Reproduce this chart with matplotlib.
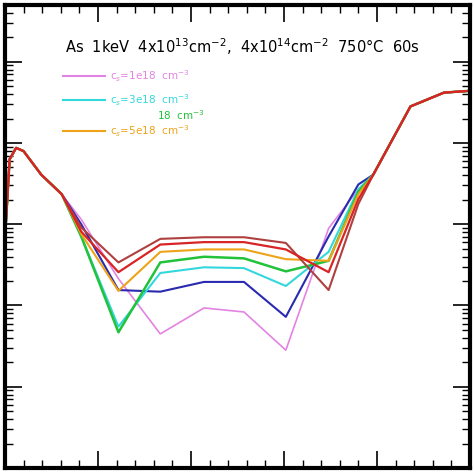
import numpy as np
import matplotlib
matplotlib.use("Agg")
import matplotlib.pyplot as plt

# depth nodes (arbitrary units, no tick labels in the original)
depth = [0.0, 0.05, 0.12, 0.20, 0.39, 0.61, 0.82, 1.22, 1.67, 2.14, 2.57,
         3.02, 3.48, 3.80, 3.96, 4.36, 4.72, 4.97]

# log10 concentration, shared surface part and tail
head = [16.82, 17.80, 17.94, 17.90, 17.61, 17.37]
tail = [17.61, 18.45, 18.62, 18.64]

# per-curve values at depth nodes 0.82 .. 3.80
mid_pink = [17.06, 16.33, 15.65, 15.97, 15.92, 15.45, 16.95, 17.43]
mid_blue = [17.00, 16.19, 16.17, 16.29, 16.29, 15.86, 16.85, 17.49]
mid_cyan = [16.85, 15.74, 16.40, 16.47, 16.46, 16.24, 16.66, 17.43]
mid_green = [16.85, 15.67, 16.53, 16.60, 16.58, 16.42, 16.55, 17.40]
mid_orange = [16.88, 16.18, 16.66, 16.69, 16.69, 16.57, 16.55, 17.37]
mid_darkred = [16.96, 16.53, 16.82, 16.84, 16.84, 16.77, 16.19, 17.25]
mid_red = [16.91, 16.41, 16.75, 16.78, 16.78, 16.69, 16.41, 17.31]

curves = [
    (mid_pink, "#e383e3", 1.2),
    (mid_blue, "#2a2ab0", 1.5),
    (mid_cyan, "#33d8dd", 1.5),
    (mid_green, "#22c23a", 1.8),
    (mid_orange, "#eea318", 1.5),
    (mid_darkred, "#b04040", 1.5),
    (mid_red, "#d82424", 1.6),
]

fig = plt.figure(figsize=(4.74, 4.74), dpi=100)
ax = fig.add_axes([0.0105, 0.0127, 0.981, 0.977])

for mid, col, lw in curves:
    logc = head + mid + tail
    ax.plot(depth, 10 ** np.array(logc), color=col, lw=lw)

ax.set_yscale("log")
ax.set_xlim(0, 5)
ax.set_ylim(1e14, 10 ** 19.7)
ax.set_xticks([1, 2, 3, 4])
ax.set_xticks(np.arange(0.2, 5, 0.2), minor=True)
ax.tick_params(which="both", direction="in", top=True, right=True,
               labelbottom=False, labelleft=False)
ax.tick_params(which="major", length=12, width=1.2)
ax.tick_params(which="minor", length=6, width=1)
for s in ax.spines.values():
    s.set_linewidth(3)

ax.text(0.51, 0.91,
        r"As  1keV  4x10$^{13}$cm$^{-2}$,  4x10$^{14}$cm$^{-2}$  750°C  60s",
        transform=ax.transAxes, ha="center", va="center", fontsize=10.5)

# faded legend
leg = [("c$_s$=1e18  cm$^{-3}$", "#e383e3", 0.847, True),
       ("c$_s$=3e18  cm$^{-3}$", "#33d8dd", 0.795, True),
       ("18  cm$^{-3}$", "#22c23a", 0.762, False),
       ("c$_s$=5e18  cm$^{-3}$", "#eea318", 0.728, True)]
for label, col, yy, line in leg:
    if line:
        ax.plot([0.125, 0.215], [yy, yy], color=col, lw=1.5,
                transform=ax.transAxes)
        ax.text(0.225, yy, label, color=col, fontsize=7.5,
                transform=ax.transAxes, va="center")
    else:
        ax.text(0.43, yy, label, color=col, fontsize=7.5,
                transform=ax.transAxes, va="center", ha="right")

fig.savefig("out.png", dpi=100)
